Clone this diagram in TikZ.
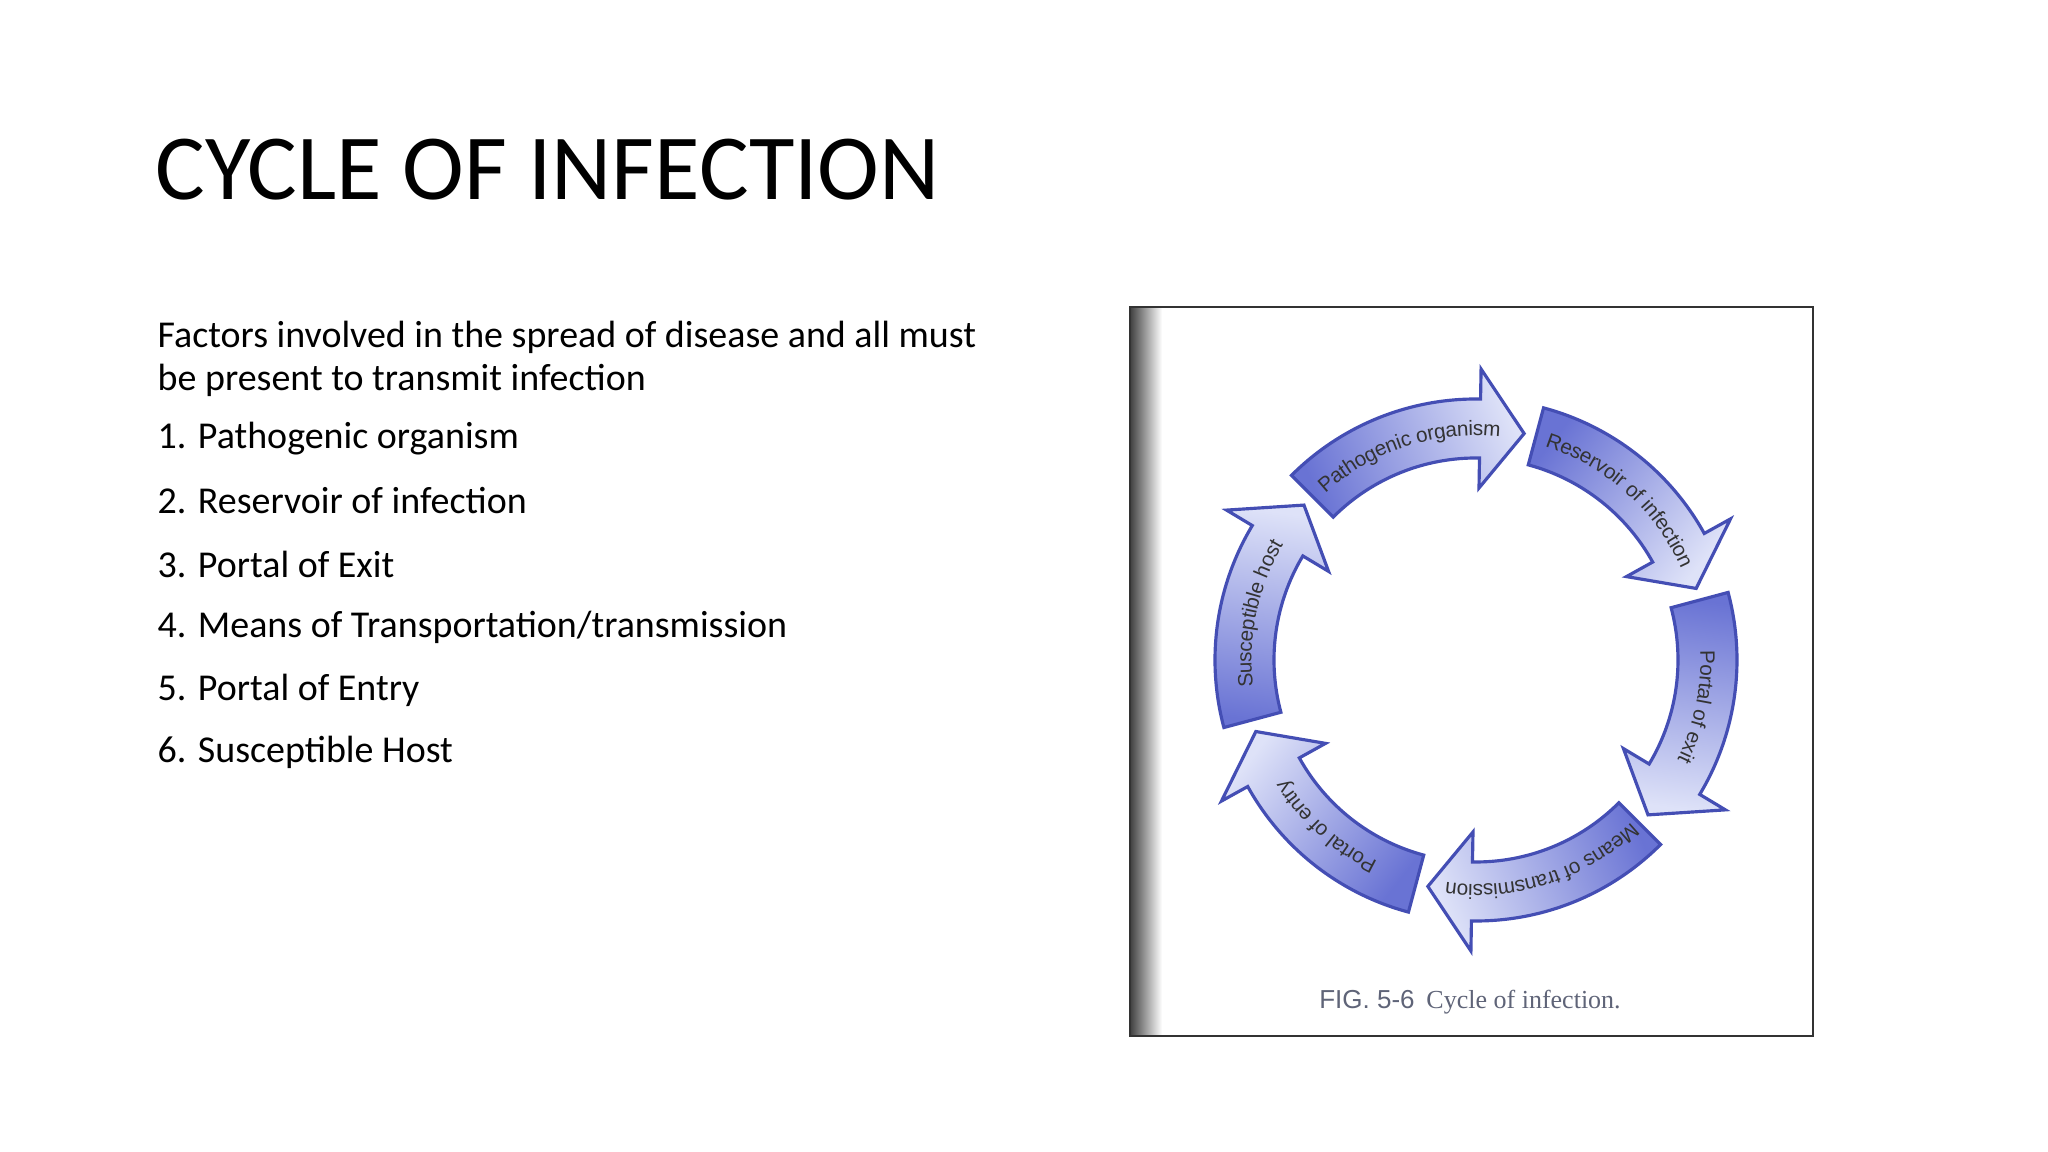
\documentclass[tikz,border=0pt]{standalone}
\usepackage{fontspec}
\setmainfont{Carlito}
\newfontfamily\figsans{Liberation Sans}
\newfontfamily\figserif{Liberation Serif}
\usetikzlibrary{positioning}
\usetikzlibrary{decorations.text}
\definecolor{ringdark}{RGB}{105,115,212}
\definecolor{ringlight}{RGB}{222,226,248}
\definecolor{ringedge}{RGB}{68,78,180}
\definecolor{capgray}{RGB}{95,100,120}
\newcommand\labelfont{\figsans\fontsize{5.9}{7}\selectfont\color{black!80}}

\begin{document}
\begin{tikzpicture}[x=1cm, y=1cm, bodytext/.style={anchor=west, inner sep=0pt, font=\fontsize{10.8}{12.4}\selectfont}]
    \useasboundingbox (0,0) rectangle (20.48,11.52);

    %Title and list
    \node[anchor=west, inner sep=0pt, font=\fontsize{26.5}{30}\selectfont](title) at (1.55,9.82){CYCLE OF INFECTION};
    \node[bodytext, align=left, anchor=north west](intro) at (1.57,8.32){Factors involved in the spread of disease and all must\\be present to transmit infection};
    \node[bodytext](item1) at (1.57,7.13){1. Pathogenic organism};
    \node[bodytext](item2) at (1.57,6.51){2. Reservoir of infection};
    \node[bodytext](item3) at (1.57,5.88){3. Portal of Exit};
    \node[bodytext](item4) at (1.57,5.25){4. Means of Transportation/transmission};
    \node[bodytext](item5) at (1.57,4.62){5. Portal of Entry};
    \node[bodytext](item6) at (1.57,4.00){6. Susceptible Host};

    %Figure frame
    \fill[white] (11.30,1.16) rectangle (18.13,8.45);
    \shade[left color=black!75, right color=white] (11.30,1.16) rectangle (11.62,8.45);
    \draw[black!80, line width=0.8pt] (11.30,1.16) rectangle (18.13,8.45);
    \node[font=\fontsize{7.4}{9}\selectfont, text=capgray](caption) at (14.70,1.50){{\figsans FIG. 5-6}\ \ {\figserif Cycle of infection.}};

    %Ring of arrows
    \begin{scope}[shift={(14.76,4.92)}]
    \foreach \a/\t in {135/Pathogenic organism, 75/Reservoir of infection, 15/Portal of exit, -45/Means of transmission, -105/Portal of entry, -165/Susceptible host}{
        \pgfmathsetmacro\b{\a-46}
        \pgfmathsetmacro\tip{\a-57}
        \pgfmathsetmacro\e{\a-54}
        \pgfmathsetmacro\sh{\a-23-180}
        \shade[top color=ringlight, bottom color=ringdark, shading angle=\sh, draw=ringedge, line width=0.9pt, line join=miter]
            (\a:2.02) arc[start angle=\a, end angle=\b, radius=2.02] -- (\b:1.72) -- (\tip:2.315) -- (\b:2.91) -- (\b:2.61)
            arc[start angle=\b, end angle=\a, radius=2.61] -- cycle;
        \path[decorate, decoration={text along path, text/.expanded={|\noexpand\labelfont|\t}, text align=center, raise=-2pt}]
            (\a:2.315) arc[start angle=\a, end angle=\e, radius=2.315];
    }
    \end{scope}
\end{tikzpicture}
\end{document}
